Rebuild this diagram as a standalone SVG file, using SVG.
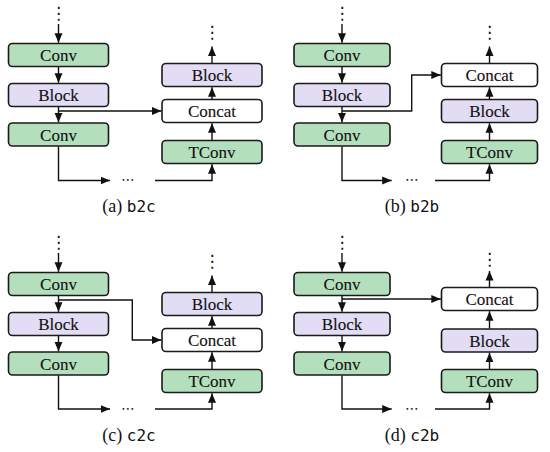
<svg xmlns="http://www.w3.org/2000/svg" width="550" height="452" viewBox="0 0 550 452">
<style>
.box{stroke:#1a1a1a;stroke-width:1.6}
.g{fill:#b4dfbc}
.p{fill:#e2dcf4}
.w{fill:#ffffff}
.c{fill:none;stroke:#111;stroke-width:1.4}
.a{marker-end:url(#ah)}
</style>
<defs>
<marker id="ah" markerUnits="userSpaceOnUse" markerWidth="11" markerHeight="10" refX="9.5" refY="5" orient="auto">
<path d="M0,1 L9.5,5 L0,9 z" fill="#111"/>
</marker>
</defs>

<g font-family="Liberation Serif, serif" font-size="17" fill="#111" stroke="#111" stroke-width="0.1" text-anchor="middle">
<!-- Panel (a) -->
<g id="a-conv1"><rect class="box g" x="8.5" y="43.5" width="100" height="23" rx="4"/><text x="58.5" y="61">Conv</text></g>
<g id="a-block1"><rect class="box p" x="8.5" y="83.5" width="100" height="23" rx="4"/><text x="58.5" y="101">Block</text></g>
<g id="a-conv2"><rect class="box g" x="8.5" y="123" width="100" height="23" rx="4"/><text x="58.5" y="140.5">Conv</text></g>
<g id="a-block2"><rect class="box p" x="162" y="63.5" width="100" height="23" rx="4"/><text x="212" y="81">Block</text></g>
<g id="a-concat"><rect class="box w" x="162" y="99.5" width="100" height="23" rx="4"/><text x="212" y="117">Concat</text></g>
<g id="a-tconv"><rect class="box g" x="162" y="140.5" width="100" height="23" rx="4"/><text x="212" y="158">TConv</text></g>

<!-- Panel (b) -->
<g id="b-conv1"><rect class="box g" x="294" y="43.5" width="96" height="23" rx="4"/><text x="342" y="61">Conv</text></g>
<g id="b-block1"><rect class="box p" x="294" y="83.5" width="96" height="23" rx="4"/><text x="342" y="101">Block</text></g>
<g id="b-conv2"><rect class="box g" x="294" y="123" width="96" height="23" rx="4"/><text x="342" y="140.5">Conv</text></g>
<g id="b-concat"><rect class="box w" x="441.5" y="63.5" width="96" height="23" rx="4"/><text x="489.5" y="81">Concat</text></g>
<g id="b-block2"><rect class="box p" x="441.5" y="99.5" width="96" height="23" rx="4"/><text x="489.5" y="117">Block</text></g>
<g id="b-tconv"><rect class="box g" x="441.5" y="140.5" width="96" height="23" rx="4"/><text x="489.5" y="158">TConv</text></g>

<!-- Panel (c) -->
<g id="c-conv1"><rect class="box g" x="8.5" y="272.5" width="100" height="23" rx="4"/><text x="58.5" y="290">Conv</text></g>
<g id="c-block1"><rect class="box p" x="8.5" y="312.5" width="100" height="23" rx="4"/><text x="58.5" y="330">Block</text></g>
<g id="c-conv2"><rect class="box g" x="8.5" y="352" width="100" height="23" rx="4"/><text x="58.5" y="369.5">Conv</text></g>
<g id="c-block2"><rect class="box p" x="162" y="292.5" width="100" height="23" rx="4"/><text x="212" y="310">Block</text></g>
<g id="c-concat"><rect class="box w" x="162" y="328.5" width="100" height="23" rx="4"/><text x="212" y="346">Concat</text></g>
<g id="c-tconv"><rect class="box g" x="162" y="369.5" width="100" height="23" rx="4"/><text x="212" y="387">TConv</text></g>

<!-- Panel (d) -->
<g id="d-conv1"><rect class="box g" x="294" y="272.5" width="96" height="23" rx="4"/><text x="342" y="290">Conv</text></g>
<g id="d-block1"><rect class="box p" x="294" y="312.5" width="96" height="23" rx="4"/><text x="342" y="330">Block</text></g>
<g id="d-conv2"><rect class="box g" x="294" y="352" width="96" height="23" rx="4"/><text x="342" y="369.5">Conv</text></g>
<g id="d-concat"><rect class="box w" x="441.5" y="287.5" width="96" height="23" rx="4"/><text x="489.5" y="305">Concat</text></g>
<g id="d-block2"><rect class="box p" x="441.5" y="329" width="96" height="23" rx="4"/><text x="489.5" y="346.5">Block</text></g>
<g id="d-tconv"><rect class="box g" x="441.5" y="369.5" width="96" height="23" rx="4"/><text x="489.5" y="387">TConv</text></g>
</g>

<g id="vdots" font-family="DejaVu Sans, sans-serif" font-size="17" fill="#111" text-anchor="middle">
<text x="58.5" y="19">⋮</text>
<text x="212" y="38">⋮</text>
<text x="342" y="19">⋮</text>
<text x="489.5" y="38">⋮</text>
<text x="58.5" y="248">⋮</text>
<text x="212" y="267">⋮</text>
<text x="342" y="248">⋮</text>
<text x="489.5" y="265">⋮</text>
</g>
<g id="hdots" font-family="DejaVu Sans, sans-serif" font-size="14" fill="#111" text-anchor="middle">
<text x="128" y="184">⋯</text>
<text x="412" y="184">⋯</text>
<text x="128" y="413">⋯</text>
<text x="412" y="413">⋯</text>
</g>

<g id="captions" font-family="Liberation Serif, serif" font-size="18" fill="#111" text-anchor="middle">
<text x="129" y="212">(a) <tspan font-family="DejaVu Sans Mono, monospace" font-size="16">b2c</tspan></text>
<text x="412" y="212">(b) <tspan font-family="DejaVu Sans Mono, monospace" font-size="16">b2b</tspan></text>
<text x="129" y="441">(c) <tspan font-family="DejaVu Sans Mono, monospace" font-size="16">c2c</tspan></text>
<text x="412" y="441">(d) <tspan font-family="DejaVu Sans Mono, monospace" font-size="16">c2b</tspan></text>
</g>

<g id="connectors">
<!-- a -->
<path class="c a" d="M58.5,24 V42.8"/>
<path class="c a" d="M58.5,67 V82.8"/>
<path class="c a" d="M58.5,107 V122.3"/>
<path class="c a" d="M58.5,111 H161.3"/>
<path class="c a" d="M58.5,146.5 V180.5 H110"/>
<path class="c a" d="M155,180.5 H212 V164.2"/>
<path class="c a" d="M212,140 V123.2"/>
<path class="c a" d="M212,99 V87.2"/>
<path class="c a" d="M212,63 V46.5"/>
<!-- b -->
<path class="c a" d="M342,24 V42.8"/>
<path class="c a" d="M342,67 V82.8"/>
<path class="c a" d="M342,107 V122.3"/>
<path class="c a" d="M342,111 H411.7 V75 H440.8"/>
<path class="c a" d="M342,146.5 V180.5 H391.7"/>
<path class="c a" d="M435,180.5 H489.5 V164.2"/>
<path class="c a" d="M489.5,140 V123.2"/>
<path class="c a" d="M489.5,99 V87.2"/>
<path class="c a" d="M489.5,63 V46.5"/>
<!-- c -->
<path class="c a" d="M58.5,253 V271.8"/>
<path class="c a" d="M58.5,296 V311.8"/>
<path class="c a" d="M58.5,336 V351.3"/>
<path class="c a" d="M58.5,300 H132.3 V340 H161.3"/>
<path class="c a" d="M58.5,375.5 V409 H110"/>
<path class="c a" d="M155,409 H212 V393.2"/>
<path class="c a" d="M212,369 V352.2"/>
<path class="c a" d="M212,328 V316.2"/>
<path class="c a" d="M212,292 V275.5"/>
<!-- d -->
<path class="c a" d="M342,253 V271.8"/>
<path class="c a" d="M342,296 V311.8"/>
<path class="c a" d="M342,336 V351.3"/>
<path class="c a" d="M342,299 H440.8"/>
<path class="c a" d="M342,375.5 V409 H391.7"/>
<path class="c a" d="M435,409 H489.5 V393.2"/>
<path class="c a" d="M489.5,369 V352.7"/>
<path class="c a" d="M489.5,328.5 V311.2"/>
<path class="c a" d="M489.5,287 V271"/>
</g>
</svg>
